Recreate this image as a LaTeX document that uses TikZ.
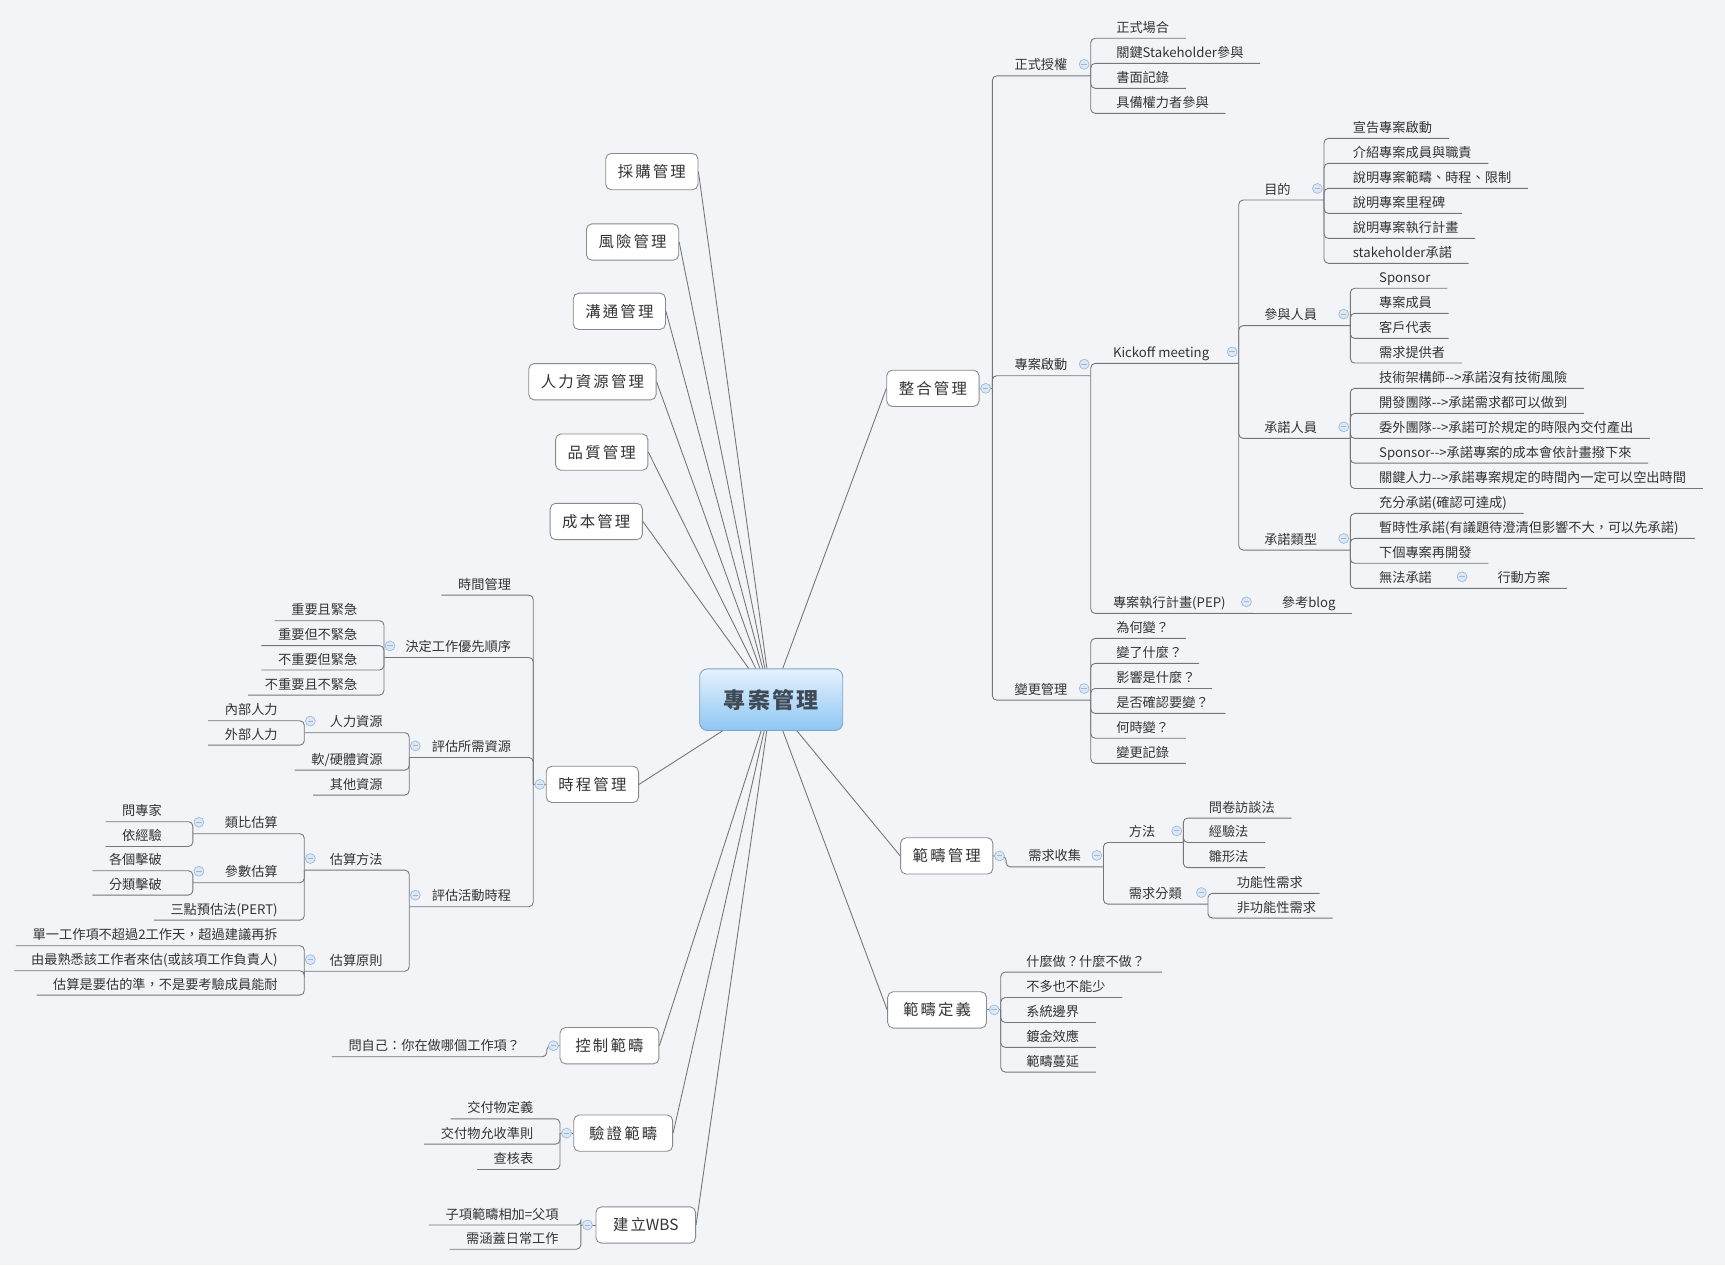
\documentclass[tikz,border=0pt]{standalone}
\usepackage{fontspec}
\setmainfont{Noto Sans CJK TC}
\newfontfamily\leaffont{Noto Sans CJK TC}
\newfontfamily\topicfont[LetterSpace=14]{Noto Sans CJK TC}
\newfontfamily\rootfont[LetterSpace=10]{Noto Sans CJK TC}
\usetikzlibrary{calc}
\definecolor{bgc}{HTML}{F2F4F7}
\definecolor{lnc}{HTML}{767676}
\definecolor{boxc}{HTML}{8A8A8A}
\definecolor{txc}{HTML}{333333}
\definecolor{rootc}{HTML}{7FA3C4}
\definecolor{roottop}{HTML}{E6F2FD}
\definecolor{rootbot}{HTML}{8DC6F3}
\definecolor{roottx}{HTML}{3F4A56}
\definecolor{foldc}{HTML}{9DB9DA}
\definecolor{foldf}{HTML}{DCE7F4}
\tikzset{
  br/.style={draw=lnc, line width=0.8pt, rounded corners=4pt},
  topic/.style={draw=boxc, fill=white, rounded corners=5pt, inner xsep=11pt, minimum height=33pt,
    line width=0.8pt, font=\fontsize{14}{16}\topicfont, text=txc},
  root/.style={draw=rootc, rounded corners=7pt, top color=roottop, bottom color=rootbot,
    minimum width=130pt, minimum height=56pt, line width=0.8pt,
    font=\fontsize{20}{24}\rootfont\bfseries, text=roottx},
  leaf/.style={inner xsep=15pt, inner ysep=3.2pt, text height=9pt, text depth=2pt,
    font=\fontsize{12}{14}\leaffont, text=txc},
  r1/.style={leaf, anchor=south west, xshift=5pt},
  r2/.style={leaf, anchor=south west, xshift=8pt},
  r3/.style={leaf, anchor=south west, xshift=11pt},
  l1/.style={leaf, anchor=south east, xshift=-5pt},
  l2/.style={leaf, anchor=south east, xshift=-9pt},
  l3/.style={leaf, anchor=south east, xshift=-13pt},
  fold/.pic={\draw[foldc, fill=foldf, line width=0.6pt] (0,0) circle (4.5pt);
    \draw[foldc, line width=0.8pt] (-2.5pt,0) -- (2.5pt,0);}
}
\begin{document}
\begin{tikzpicture}[x=1pt,y=-1pt]
\fill[bgc] (0,0) rectangle (1568,1150);
\useasboundingbox (0,0) rectangle (1568,1150);
% 中心與主題
\node[root] (pm) at (701,636) {專案管理};
\node[topic] (cg) at (592.5,156) {採購管理};
\node[topic] (fx) at (575,220) {風險管理};
\node[topic] (gt) at (563,283) {溝通管理};
\node[topic] (rl) at (538.5,347) {人力資源管理};
\node[topic] (pz) at (547,411) {品質管理};
\node[topic] (cb) at (542,474) {成本管理};
\node[topic] (sc) at (538.5,713) {時程管理};
\node[topic, inner xsep=14pt] (kz) at (554,950.5) {控制範疇};
\node[topic, inner xsep=14pt] (yz) at (566.5,1030) {驗證範疇};
\node[topic, inner xsep=15.5pt] (wbs) at (587,1113.5) {建立{\fontsize{14}{16}\leaffont WBS}};
\node[topic] (zh) at (848,353) {整合管理};
\node[topic] (fg) at (860.6,778) {範疇管理};
\node[topic, inner xsep=14pt] (fd) at (851.8,918) {範疇定義};
\foreach \t in {cg,fx,gt,rl,pz,cb,sc,kz,yz,wbs} \draw[br] (pm) -- (\t.east);
\foreach \t in {zh,fg,fd} \draw[br] (pm) -- (\t.west);

% 整合管理
\coordinate (fZH) at (902,353);
\node[r1] (zs) at (902,69) {正式授權};
\coordinate (fZS) at (991.5,69);
\node[r1] (qd) at (902,341.5) {專案啟動};
\coordinate (fQD) at (991.5,341.5);
\node[r1] (bg) at (902,636.4) {變更管理};
\coordinate (fBG) at (991.5,636.4);
\node[r2] (zs1) at (991.5,34.8) {正式場合};
\node[r2] (zs2) at (991.5,57.6) {關鍵Stakeholder參與};
\node[r2] (zs3) at (991.5,80.3) {書面記錄};
\node[r2] (zs4) at (991.5,103) {具備權力者參與};
\node[r1] (ko) at (991.5,330.3) {Kickoff meeting};
\coordinate (fKO) at (1126,330.3);
\node[r1] (pep) at (991.5,557.6) {專案執行計畫(PEP)};
\coordinate (fPEP) at (1139,557.6);
\node[r3] (pep1) at (1139,557.6) {參考blog};
\node[r2] (md) at (1126,181.8) {目的};
\coordinate (fMD) at (1203.5,181.8);
\node[r2] (cy) at (1126,296) {參與人員};
\coordinate (fCY) at (1227.4,296);
\node[r2] (cr) at (1126,398.5) {承諾人員};
\coordinate (fCR) at (1227.4,398.5);
\node[r2] (cl) at (1126,500) {承諾類型};
\coordinate (fCL) at (1227.4,500);
\node[r3] (md1) at (1203.5,125.8) {宣告專案啟動};
\node[r3] (md2) at (1203.5,148.5) {介紹專案成員與職責};
\node[r3] (md3) at (1203.5,171.2) {說明專案範疇、時程、限制};
\node[r3] (md4) at (1203.5,194) {說明專案里程碑};
\node[r3] (md5) at (1203.5,216.7) {說明專案執行計畫};
\node[r3] (md6) at (1203.5,239.4) {stakeholder承諾};
\node[r3] (cy1) at (1227.4,262) {Sponsor};
\node[r3] (cy2) at (1227.4,284.8) {專案成員};
\node[r3] (cy3) at (1227.4,307.6) {客戶代表};
\node[r3] (cy4) at (1227.4,330) {需求提供者};
\node[r3] (cr1) at (1227.4,353) {技術架構師-{}->承諾沒有技術風險};
\node[r3] (cr2) at (1227.4,375.8) {開發團隊-{}->承諾需求都可以做到};
\node[r3] (cr3) at (1227.4,398.5) {委外團隊-{}->承諾可於規定的時限內交付產出};
\node[r3] (cr4) at (1227.4,421) {Sponsor-{}->承諾專案的成本會依計畫撥下來};
\node[r3] (cr5) at (1227.4,444) {關鍵人力-{}->承諾專案規定的時間內一定可以空出時間};
\node[r3] (cl1) at (1227.4,466.7) {充分承諾(確認可達成)};
\node[r3] (cl2) at (1227.4,489.4) {暫時性承諾(有議題待澄清但影響不大，可以先承諾)};
\node[r3] (cl3) at (1227.4,512) {下個專案再開發};
\node[r3] (cl4) at (1227.4,534.8) {無法承諾};
\coordinate (fWF) at (1335,534.8);
\node[r3] (cl5) at (1335,534.8) {行動方案};
\node[r2] (bg1) at (991.5,580.3) {為何變？};
\node[r2] (bg2) at (991.5,603) {變了什麼？};
\node[r2] (bg3) at (991.5,625.8) {影響是什麼？};
\node[r2] (bg4) at (991.5,648.5) {是否確認要變？};
\node[r2] (bg5) at (991.5,671) {何時變？};
\node[r2] (bg6) at (991.5,693.9) {變更記錄};
\draw[br] (zh.east) -- (fZH);
\foreach \n in {fZS,fQD,fBG} \draw[br] (fZH) |- (\n);
\foreach \n in {zs1,zs2,zs3,zs4} \draw[br] (fZS) |- (\n.south east);
\foreach \n in {fKO,fPEP} \draw[br] (fQD) |- (\n);
\draw[br] (fPEP) -- (pep1.south east);
\foreach \n in {fMD,fCY,fCR,fCL} \draw[br] (fKO) |- (\n);
\foreach \n in {md1,md2,md3,md4,md5,md6} \draw[br] (fMD) |- (\n.south east);
\foreach \n in {cy1,cy2,cy3,cy4} \draw[br] (fCY) |- (\n.south east);
\foreach \n in {cr1,cr2,cr3,cr4,cr5} \draw[br] (fCR) |- (\n.south east);
\foreach \n in {cl1,cl2,cl3} \draw[br] (fCL) |- (\n.south east);
\draw[br] (fCL) |- (fWF) -- (cl5.south east);
\foreach \n in {bg1,bg2,bg3,bg4,bg5,bg6} \draw[br] (fBG) |- (\n.south east);

% 範疇管理
\coordinate (fFG) at (914.5,778);
\node[r1] (xs) at (914.5,788) {需求收集};
\coordinate (fXS) at (1003,788);
\node[r2] (ff) at (1003,765.8) {方法};
\coordinate (fFF) at (1075.6,765.8);
\node[r2] (fl) at (1003,821.8) {需求分類};
\coordinate (fFL) at (1098,821.8);
\node[r2] (ff1) at (1075.6,743.6) {問卷訪談法};
\node[r2] (ff2) at (1075.6,765.8) {經驗法};
\node[r2] (ff3) at (1075.6,788.7) {雛形法};
\node[r3] (fl1) at (1098,812) {功能性需求};
\node[r3] (fl2) at (1098,834.5) {非功能性需求};
\draw[br] (fg.east) -- (fFG) |- (fXS);
\foreach \n in {fFF,fFL} \draw[br] (fXS) |- (\n);
\foreach \n in {ff1,ff2,ff3} \draw[br] (fFF) |- (\n.south east);
\foreach \n in {fl1,fl2} \draw[br] (fFL) |- (\n.south east);

% 範疇定義
\coordinate (fFD) at (909.7,918);
\node[r2] (fd1) at (909.7,883.6) {什麼做？什麼不做？};
\node[r2] (fd2) at (909.7,906.7) {不多也不能少};
\node[r2] (fd3) at (909.7,929.4) {系統邊界};
\node[r2] (fd4) at (909.7,952) {鍍金效應};
\node[r2] (fd5) at (909.7,974.5) {範疇蔓延};
\draw[br] (fd.east) -- (fFD);
\foreach \n in {fd1,fd2,fd3,fd4,fd5} \draw[br] (fFD) |- (\n.south east);

% 時程管理
\coordinate (fSC) at (484.7,713);
\node[l1] (sj) at (484.7,540.9) {時間管理};
\node[l1] (jd) at (484.7,597.6) {決定工作優先順序};
\coordinate (fJD) at (349,597.6);
\node[l1] (pgzy) at (484.7,688.5) {評估所需資源};
\coordinate (fPGZY) at (372,688.5);
\node[l1] (pghd) at (484.7,824.2) {評估活動時程};
\coordinate (fPGHD) at (372,824.2);
\node[l2] (jd1) at (349,564.2) {重要且緊急};
\node[l2] (jd2) at (349,586.9) {重要但不緊急};
\node[l2] (jd3) at (349,609) {不重要但緊急};
\node[l2] (jd4) at (349,631.8) {不重要且不緊急};
\node[l2] (rlzy) at (372,666) {人力資源};
\coordinate (fRLZY) at (276.6,666);
\node[l2] (rj) at (372,700) {軟/硬體資源};
\node[l2] (qt) at (372,722.7) {其他資源};
\node[l2] (nb) at (276.6,655.2) {內部人力};
\node[l2] (wb) at (276.6,677.3) {外部人力};
\node[l2] (gf) at (372,790.9) {估算方法};
\coordinate (fGF) at (276.6,790.9);
\node[l2] (gy) at (372,882.8) {估算原則};
\coordinate (fGY) at (276.6,882.8);
\node[l2] (lb) at (276.6,757.9) {類比估算};
\coordinate (fLB) at (175.3,757.9);
\node[l2] (cs) at (276.6,802.4) {參數估算};
\coordinate (fCS) at (175.3,802.4);
\node[l2] (pert) at (276.6,836.4) {三點預估法(PERT)};
\node[l3] (lb1) at (175.3,746.9) {問專家};
\node[l3] (lb2) at (175.3,769.4) {依經驗};
\node[l3] (cs1) at (175.3,791.5) {各個擊破};
\node[l3] (cs2) at (175.3,813.6) {分類擊破};
\node[l2] (gy1) at (276.6,859.7) {單一工作項不超過2工作天，超過建議再拆};
\node[l2] (gy2) at (276.6,882.4) {由最熟悉該工作者來估(或該項工作負責人)};
\node[l2] (gy3) at (276.6,904.5) {估算是要估的準，不是要考驗成員能耐};
\draw[br] (sc.west) -- (fSC);
\draw[br] (fSC) |- (sj.south west);
\foreach \n in {fJD,fPGZY,fPGHD} \draw[br] (fSC) |- (\n);
\foreach \n in {jd1,jd2,jd3,jd4} \draw[br] (fJD) |- (\n.south west);
\draw[br] (fPGZY) |- (fRLZY);
\foreach \n in {rj,qt} \draw[br] (fPGZY) |- (\n.south west);
\foreach \n in {nb,wb} \draw[br] (fRLZY) |- (\n.south west);
\foreach \n in {fGF,fGY} \draw[br] (fPGHD) |- (\n);
\foreach \n in {fLB,fCS} \draw[br] (fGF) |- (\n);
\draw[br] (fGF) |- (pert.south west);
\foreach \n in {lb1,lb2} \draw[br] (fLB) |- (\n.south west);
\foreach \n in {cs1,cs2} \draw[br] (fCS) |- (\n.south west);
\foreach \n in {gy1,gy2,gy3} \draw[br] (fGY) |- (\n.south west);

% 控制、驗證、WBS
\coordinate (fKZ) at (497,950.5);
\node[l2] (kz1) at (497,960.6) {問自己：你在做哪個工作項？};
\draw[br] (kz.west) -- (fKZ) |- (kz1.south west);
\coordinate (fYZ) at (509,1030);
\node[l2] (yz1) at (509,1017) {交付物定義};
\node[l2] (yz2) at (509,1040) {交付物允收準則};
\node[l2] (yz3) at (509,1063) {查核表};
\draw[br] (yz.west) -- (fYZ);
\foreach \n in {yz1,yz2,yz3} \draw[br] (fYZ) |- (\n.south west);
\coordinate (fWBS) at (528,1113.5);
\node[l1] (wbs1) at (528,1113.5) {子項範疇相加=父項};
\node[l1] (wbs2) at (528,1135.5) {需涵蓋日常工作};
\draw[br] (wbs.west) -- (fWBS);
\foreach \n in {wbs1,wbs2} \draw[br] (fWBS) |- (\n.south west);

% 收合圓點
\foreach \f in {fZS,fQD,fBG,fKO,fPEP,fMD,fCY,fCR,fCL,fWF,fXS,fFF,fFL}
  \pic at ($(\f)+(-6,-10.5)$) {fold};
\foreach \f in {fJD,fPGZY,fPGHD,fRLZY,fGF,fGY,fLB,fCS}
  \pic at ($(\f)+(5.5,-10.5)$) {fold};
\foreach \f in {fZH,fFG,fFD} \pic at ($(\f)+(-6,0)$) {fold};
\foreach \f in {fSC,fKZ,fYZ,fWBS} \pic at ($(\f)+(6,0)$) {fold};
\end{tikzpicture}
\end{document}
